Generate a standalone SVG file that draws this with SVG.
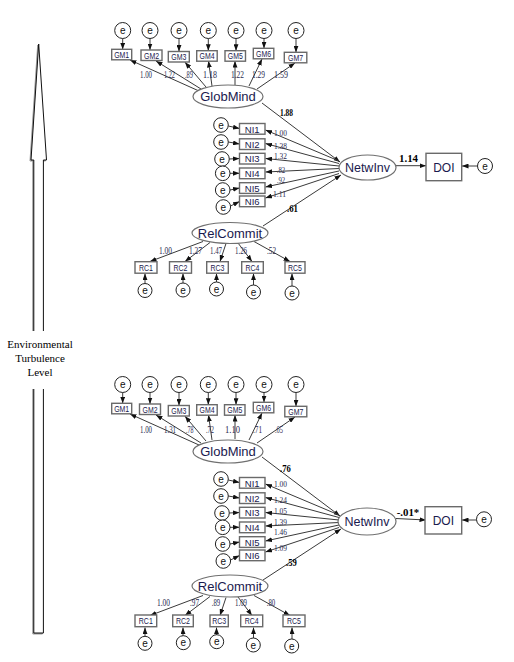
<svg xmlns="http://www.w3.org/2000/svg" width="514" height="662" viewBox="0 0 514 662">
<defs>
<marker id="ah" markerUnits="userSpaceOnUse" viewBox="0 0 8 6" markerWidth="6.5" markerHeight="5" refX="8" refY="3" orient="auto">
<path d="M0,0 L8,3 L0,6 z" fill="#111"/>
</marker>
<style>
.box{fill:#fff;stroke:#6a6a6a;stroke-width:1.4}
.ell{fill:#fff;stroke:#707070;stroke-width:1.2}
.err{fill:#fff;stroke:#222;stroke-width:1}
.nl{font-family:"Liberation Sans",Arial,sans-serif;fill:#1a1a4e;text-anchor:middle}
.bx{font-size:9.5px}
.et{font-family:"Liberation Sans",Arial,sans-serif;font-size:10px;fill:#111;text-anchor:middle}
.ld{font-family:"Liberation Serif","Times New Roman",serif;font-size:10px;fill:#2a2a50}
.ni{font-size:8.5px}
.st{font-family:"Liberation Serif","Times New Roman",serif;font-size:10px;font-weight:bold;fill:#000}
.cn{stroke:#3a3a3a;stroke-width:1;fill:none;marker-end:url(#ah)}
.lt{font-family:"Liberation Serif","Times New Roman",serif;font-size:11px;fill:#000;text-anchor:middle}
</style>
</defs>
<rect width="514" height="662" fill="#fff"/>

<g id="turbulence-arrow">
<polygon points="37.7,45 45.5,161 42.4,161 42.4,634 32.8,634 32.8,161 30,161" fill="#999" stroke="#999" stroke-width="1"/>
<polygon points="38.7,44 46.5,160 43.4,160 43.4,633 33.8,633 33.8,160 31,160" fill="#fff" stroke="#111" stroke-width="1"/>
<rect x="26" y="331" width="26" height="58" fill="#fff"/>
<text class="lt" x="40" y="348">Environmental</text>
<text class="lt" x="40" y="362">Turbulence</text>
<text class="lt" x="40" y="376">Level</text>
</g>

<!-- ================= TOP PANEL ================= -->
<g id="top-connectors">
<line class="cn" x1="122.7" y1="38.5" x2="122.7" y2="49.3"/>
<line class="cn" x1="150" y1="38.5" x2="150" y2="50"/>
<line class="cn" x1="179" y1="38.5" x2="179" y2="51.5"/>
<line class="cn" x1="208.3" y1="38.5" x2="208.3" y2="50.7"/>
<line class="cn" x1="236" y1="38.5" x2="236" y2="50.7"/>
<line class="cn" x1="264" y1="38.5" x2="264" y2="48.3"/>
<line class="cn" x1="296" y1="38.5" x2="296" y2="52.3"/>
<line class="cn" x1="199" y1="91" x2="130" y2="60"/>
<line class="cn" x1="201" y1="89" x2="156" y2="61"/>
<line class="cn" x1="206" y1="87" x2="185" y2="62.2"/>
<line class="cn" x1="212" y1="86" x2="208.5" y2="61"/>
<line class="cn" x1="235" y1="85" x2="235" y2="61"/>
<line class="cn" x1="249" y1="86" x2="262" y2="59"/>
<line class="cn" x1="257" y1="89" x2="295" y2="63"/>
<line class="cn" x1="262" y1="103" x2="340" y2="162"/>
<line class="cn" x1="263" y1="226" x2="341" y2="175"/>
<line class="cn" x1="228.3" y1="126" x2="239.5" y2="128.5"/>
<line class="cn" x1="228.3" y1="142" x2="239.5" y2="144"/>
<line class="cn" x1="229.3" y1="159" x2="239.5" y2="158.5"/>
<line class="cn" x1="230" y1="173.3" x2="239.5" y2="173.3"/>
<line class="cn" x1="230" y1="190" x2="239.5" y2="188"/>
<line class="cn" x1="230.6" y1="206" x2="239.5" y2="201.5"/>
<line class="cn" x1="339" y1="161" x2="265.5" y2="130"/>
<line class="cn" x1="339" y1="163.5" x2="265.5" y2="143.5"/>
<line class="cn" x1="339" y1="166" x2="265.5" y2="158.5"/>
<line class="cn" x1="339" y1="168.5" x2="265.5" y2="172"/>
<line class="cn" x1="339" y1="171" x2="265.5" y2="187"/>
<line class="cn" x1="339" y1="173.5" x2="265.5" y2="198"/>
<line class="cn" x1="396" y1="165.7" x2="426" y2="165.7"/>
<line class="cn" x1="477.5" y1="166" x2="462" y2="166"/>
<line class="cn" x1="203" y1="241.5" x2="150" y2="261.5"/>
<line class="cn" x1="210" y1="242.5" x2="185" y2="261.5"/>
<line class="cn" x1="226" y1="243.5" x2="220" y2="261.5"/>
<line class="cn" x1="238" y1="243" x2="252" y2="261.5"/>
<line class="cn" x1="254" y1="241.5" x2="290" y2="261.5"/>
<line class="cn" x1="145" y1="283.5" x2="145" y2="273.5"/>
<line class="cn" x1="183" y1="283" x2="183" y2="273.5"/>
<line class="cn" x1="216.5" y1="282" x2="216.5" y2="273.5"/>
<line class="cn" x1="253.5" y1="285" x2="253.5" y2="273.5"/>
<line class="cn" x1="292" y1="286" x2="292" y2="273.5"/>
</g>
<g id="top-labels">
<text class="ld" x="140" y="78.3" textLength="12" lengthAdjust="spacingAndGlyphs">1.00</text>
<text class="ld" x="164" y="78.3" textLength="11" lengthAdjust="spacingAndGlyphs">1.22</text>
<text class="ld" x="185" y="78.3" textLength="8" lengthAdjust="spacingAndGlyphs">.89</text>
<text class="ld" x="203" y="78.3" textLength="14" lengthAdjust="spacingAndGlyphs">1.18</text>
<text class="ld" x="231" y="78.3" textLength="13" lengthAdjust="spacingAndGlyphs">1.22</text>
<text class="ld" x="252" y="78.3" textLength="13" lengthAdjust="spacingAndGlyphs">1.29</text>
<text class="ld" x="274" y="78.3" textLength="14" lengthAdjust="spacingAndGlyphs">1.59</text>
<text class="st" x="280" y="116" textLength="13" lengthAdjust="spacingAndGlyphs">1.88</text>
<text class="ld ni" x="274" y="136" textLength="13" lengthAdjust="spacingAndGlyphs">1.00</text>
<text class="ld ni" x="274" y="148.6" textLength="13" lengthAdjust="spacingAndGlyphs">1.38</text>
<text class="ld ni" x="274" y="158.6" textLength="13" lengthAdjust="spacingAndGlyphs">1.32</text>
<text class="ld ni" x="276.7" y="173" textLength="8.5" lengthAdjust="spacingAndGlyphs">.82</text>
<text class="ld ni" x="276.7" y="183" textLength="8.5" lengthAdjust="spacingAndGlyphs">.92</text>
<text class="ld ni" x="273" y="197.3" textLength="13" lengthAdjust="spacingAndGlyphs">1.11</text>
<text class="st" x="287" y="211.7" textLength="11" lengthAdjust="spacingAndGlyphs">.61</text>
<text class="st" x="399" y="161.5" font-size="11" textLength="19" lengthAdjust="spacingAndGlyphs">1.14</text>
<text class="ld" x="159" y="254" textLength="13" lengthAdjust="spacingAndGlyphs">1.00</text>
<text class="ld" x="189" y="254" textLength="13" lengthAdjust="spacingAndGlyphs">1.27</text>
<text class="ld" x="210" y="254" textLength="12" lengthAdjust="spacingAndGlyphs">1.47</text>
<text class="ld" x="235" y="254" textLength="12" lengthAdjust="spacingAndGlyphs">1.26</text>
<text class="ld" x="267" y="254" textLength="9" lengthAdjust="spacingAndGlyphs">.52</text>
</g>
<g id="top-e-gm1"><circle class="err" cx="122.7" cy="30.5" r="8"/><text class="et" x="122.7" y="34">e</text></g>
<g id="top-e-gm2"><circle class="err" cx="150" cy="30.5" r="8"/><text class="et" x="150" y="34">e</text></g>
<g id="top-e-gm3"><circle class="err" cx="179" cy="30.5" r="8"/><text class="et" x="179" y="34">e</text></g>
<g id="top-e-gm4"><circle class="err" cx="208.3" cy="30.5" r="8"/><text class="et" x="208.3" y="34">e</text></g>
<g id="top-e-gm5"><circle class="err" cx="236" cy="30.5" r="8"/><text class="et" x="236" y="34">e</text></g>
<g id="top-e-gm6"><circle class="err" cx="264" cy="30.5" r="8"/><text class="et" x="264" y="34">e</text></g>
<g id="top-e-gm7"><circle class="err" cx="296" cy="30.5" r="8"/><text class="et" x="296" y="34">e</text></g>
<g id="top-GM1"><rect class="box" x="111.7" y="49.3" width="20" height="10.5"/><text class="nl bx" x="121.7" y="58" textLength="15" lengthAdjust="spacingAndGlyphs">GM1</text></g>
<g id="top-GM2"><rect class="box" x="141" y="50" width="21" height="10.5"/><text class="nl bx" x="151.5" y="58.7" textLength="15" lengthAdjust="spacingAndGlyphs">GM2</text></g>
<g id="top-GM3"><rect class="box" x="168.3" y="51.5" width="21" height="10.5"/><text class="nl bx" x="178.8" y="60.2" textLength="15" lengthAdjust="spacingAndGlyphs">GM3</text></g>
<g id="top-GM4"><rect class="box" x="196.7" y="50.7" width="20.5" height="10.5"/><text class="nl bx" x="207" y="59.4" textLength="15" lengthAdjust="spacingAndGlyphs">GM4</text></g>
<g id="top-GM5"><rect class="box" x="225" y="50.7" width="20.5" height="10.5"/><text class="nl bx" x="235.3" y="59.4" textLength="15" lengthAdjust="spacingAndGlyphs">GM5</text></g>
<g id="top-GM6"><rect class="box" x="253.3" y="48.3" width="20.5" height="10.5"/><text class="nl bx" x="263.5" y="57" textLength="15" lengthAdjust="spacingAndGlyphs">GM6</text></g>
<g id="top-GM7"><rect class="box" x="284.3" y="52.3" width="22.5" height="10.5"/><text class="nl bx" x="295.5" y="61" textLength="15" lengthAdjust="spacingAndGlyphs">GM7</text></g>
<g id="top-GlobMind"><ellipse class="ell" cx="228" cy="96.5" rx="35" ry="11.5"/><text class="nl" x="228" y="101.2" font-size="13">GlobMind</text></g>
<g id="top-e-ni1"><circle class="err" cx="221" cy="125" r="7.3"/><text class="et" x="221" y="128.5">e</text></g>
<g id="top-e-ni2"><circle class="err" cx="221" cy="142" r="7.3"/><text class="et" x="221" y="145.5">e</text></g>
<g id="top-e-ni3"><circle class="err" cx="222" cy="159" r="7.3"/><text class="et" x="222" y="162.5">e</text></g>
<g id="top-e-ni4"><circle class="err" cx="222.7" cy="173.3" r="7.3"/><text class="et" x="222.7" y="176.8">e</text></g>
<g id="top-e-ni5"><circle class="err" cx="222.7" cy="190" r="7.3"/><text class="et" x="222.7" y="193.5">e</text></g>
<g id="top-e-ni6"><circle class="err" cx="223.3" cy="207" r="7.3"/><text class="et" x="223.3" y="210.5">e</text></g>
<g id="top-NI1"><rect class="box" x="239.5" y="123.5" width="25.5" height="10.7"/><text class="nl bx" x="252.2" y="132.5">NI1</text></g>
<g id="top-NI2"><rect class="box" x="239.5" y="138.8" width="25.5" height="10.7"/><text class="nl bx" x="252.2" y="147.8">NI2</text></g>
<g id="top-NI3"><rect class="box" x="239.5" y="153.3" width="25.5" height="10.7"/><text class="nl bx" x="252.2" y="162.3">NI3</text></g>
<g id="top-NI4"><rect class="box" x="239.5" y="168" width="25.5" height="10.7"/><text class="nl bx" x="252.2" y="177">NI4</text></g>
<g id="top-NI5"><rect class="box" x="239.5" y="182.7" width="25.5" height="10.7"/><text class="nl bx" x="252.2" y="191.7">NI5</text></g>
<g id="top-NI6"><rect class="box" x="239.5" y="196" width="25.5" height="10.7"/><text class="nl bx" x="252.2" y="205">NI6</text></g>
<g id="top-NetwInv"><ellipse class="ell" cx="367.5" cy="167.5" rx="28.5" ry="12.5"/><text class="nl" x="367.5" y="172" font-size="12.5">NetwInv</text></g>
<g id="top-DOI"><rect class="box" x="426" y="153.3" width="35.7" height="27.4"/><text class="nl" x="443.8" y="171.5" font-size="12">DOI</text></g>
<g id="top-e-doi"><circle class="err" cx="485" cy="166" r="7.5"/><text class="et" x="485" y="169.5">e</text></g>
<g id="top-RelCommit"><ellipse class="ell" cx="230" cy="233" rx="38" ry="10.5"/><text class="nl" x="230" y="237.6" font-size="13">RelCommit</text></g>
<g id="top-RC1"><rect class="box" x="135" y="261.7" width="22" height="11.5"/><text class="nl bx" x="146" y="270.8" textLength="14" lengthAdjust="spacingAndGlyphs">RC1</text></g>
<g id="top-RC2"><rect class="box" x="169.5" y="261.7" width="22" height="11.5"/><text class="nl bx" x="180.5" y="270.8" textLength="14" lengthAdjust="spacingAndGlyphs">RC2</text></g>
<g id="top-RC3"><rect class="box" x="206.7" y="261.7" width="21.6" height="11.5"/><text class="nl bx" x="217.5" y="270.8" textLength="14" lengthAdjust="spacingAndGlyphs">RC3</text></g>
<g id="top-RC4"><rect class="box" x="241.7" y="261.7" width="21.6" height="11.5"/><text class="nl bx" x="252.5" y="270.8" textLength="14" lengthAdjust="spacingAndGlyphs">RC4</text></g>
<g id="top-RC5"><rect class="box" x="285" y="261.7" width="20" height="11.5"/><text class="nl bx" x="295" y="270.8" textLength="14" lengthAdjust="spacingAndGlyphs">RC5</text></g>
<g id="top-e-rc1"><circle class="err" cx="145" cy="290.5" r="7"/><text class="et" x="145" y="294">e</text></g>
<g id="top-e-rc2"><circle class="err" cx="183" cy="290" r="7"/><text class="et" x="183" y="293.5">e</text></g>
<g id="top-e-rc3"><circle class="err" cx="216.5" cy="289" r="7"/><text class="et" x="216.5" y="292.5">e</text></g>
<g id="top-e-rc4"><circle class="err" cx="253.5" cy="292" r="7"/><text class="et" x="253.5" y="295.5">e</text></g>
<g id="top-e-rc5"><circle class="err" cx="292" cy="293" r="7"/><text class="et" x="292" y="296.5">e</text></g>

<!-- ================= BOTTOM PANEL ================= -->
<g transform="translate(0,354)">
<g id="bottom-connectors">
<line class="cn" x1="122.7" y1="38.5" x2="122.7" y2="49.3"/>
<line class="cn" x1="150" y1="38.5" x2="150" y2="50"/>
<line class="cn" x1="179" y1="38.5" x2="179" y2="51.5"/>
<line class="cn" x1="208.3" y1="38.5" x2="208.3" y2="50.7"/>
<line class="cn" x1="236" y1="38.5" x2="236" y2="50.7"/>
<line class="cn" x1="264" y1="38.5" x2="264" y2="48.3"/>
<line class="cn" x1="296" y1="38.5" x2="296" y2="52.3"/>
<line class="cn" x1="199" y1="91" x2="130" y2="60"/>
<line class="cn" x1="201" y1="89" x2="156" y2="61"/>
<line class="cn" x1="206" y1="87" x2="185" y2="62.2"/>
<line class="cn" x1="212" y1="86" x2="208.5" y2="61"/>
<line class="cn" x1="235" y1="85" x2="235" y2="61"/>
<line class="cn" x1="249" y1="86" x2="262" y2="59"/>
<line class="cn" x1="257" y1="89" x2="295" y2="63"/>
<line class="cn" x1="262" y1="103" x2="340" y2="162"/>
<line class="cn" x1="263" y1="226" x2="341" y2="175"/>
<line class="cn" x1="228.3" y1="126" x2="239.5" y2="128.5"/>
<line class="cn" x1="228.3" y1="142" x2="239.5" y2="144"/>
<line class="cn" x1="229.3" y1="159" x2="239.5" y2="158.5"/>
<line class="cn" x1="230" y1="173.3" x2="239.5" y2="173.3"/>
<line class="cn" x1="230" y1="190" x2="239.5" y2="188"/>
<line class="cn" x1="230.6" y1="206" x2="239.5" y2="201.5"/>
<line class="cn" x1="339" y1="161" x2="265.5" y2="130"/>
<line class="cn" x1="339" y1="163.5" x2="265.5" y2="143.5"/>
<line class="cn" x1="339" y1="166" x2="265.5" y2="158.5"/>
<line class="cn" x1="339" y1="168.5" x2="265.5" y2="172"/>
<line class="cn" x1="339" y1="171" x2="265.5" y2="187"/>
<line class="cn" x1="339" y1="173.5" x2="265.5" y2="198"/>
<line class="cn" x1="396" y1="164.5" x2="426" y2="166"/>
<line class="cn" x1="477.5" y1="166" x2="462" y2="166"/>
<line class="cn" x1="203" y1="241.5" x2="150" y2="261.5"/>
<line class="cn" x1="210" y1="242.5" x2="185" y2="261.5"/>
<line class="cn" x1="226" y1="243.5" x2="220" y2="261.5"/>
<line class="cn" x1="238" y1="243" x2="252" y2="261.5"/>
<line class="cn" x1="254" y1="241.5" x2="290" y2="261.5"/>
<line class="cn" x1="145" y1="282.5" x2="145" y2="273.5"/>
<line class="cn" x1="183" y1="282" x2="183" y2="273.5"/>
<line class="cn" x1="216.5" y1="281" x2="216.5" y2="273.5"/>
<line class="cn" x1="253.5" y1="284" x2="253.5" y2="273.5"/>
<line class="cn" x1="292" y1="285" x2="292" y2="273.5"/>
</g>
<g id="bottom-labels">
<text class="ld" x="140" y="79" textLength="12" lengthAdjust="spacingAndGlyphs">1.00</text>
<text class="ld" x="164" y="79" textLength="12" lengthAdjust="spacingAndGlyphs">1.31</text>
<text class="ld" x="186" y="79" textLength="7.5" lengthAdjust="spacingAndGlyphs">.78</text>
<text class="ld" x="206" y="79" textLength="8" lengthAdjust="spacingAndGlyphs">.72</text>
<text class="ld" x="225" y="79" textLength="15" lengthAdjust="spacingAndGlyphs">1.10</text>
<text class="ld" x="253" y="79" textLength="9" lengthAdjust="spacingAndGlyphs">.71</text>
<text class="ld" x="275" y="79" textLength="8" lengthAdjust="spacingAndGlyphs">.65</text>
<text class="st" x="280" y="117.7" textLength="10.7" lengthAdjust="spacingAndGlyphs">.76</text>
<text class="ld ni" x="274" y="133.3" textLength="13" lengthAdjust="spacingAndGlyphs">1.00</text>
<text class="ld ni" x="274" y="149" textLength="13" lengthAdjust="spacingAndGlyphs">1.24</text>
<text class="ld ni" x="274" y="159.5" textLength="13" lengthAdjust="spacingAndGlyphs">1.05</text>
<text class="ld ni" x="274" y="171" textLength="13" lengthAdjust="spacingAndGlyphs">1.39</text>
<text class="ld ni" x="274" y="181.3" textLength="13" lengthAdjust="spacingAndGlyphs">1.46</text>
<text class="ld ni" x="274" y="196.7" textLength="13" lengthAdjust="spacingAndGlyphs">1.09</text>
<text class="st" x="286" y="212" textLength="10.7" lengthAdjust="spacingAndGlyphs">.59</text>
<text class="st" x="396.7" y="162" font-size="11" textLength="22.6" lengthAdjust="spacingAndGlyphs">-.01*</text>
<text class="ld" x="157" y="252" textLength="13" lengthAdjust="spacingAndGlyphs">1.00</text>
<text class="ld" x="190" y="252" textLength="9" lengthAdjust="spacingAndGlyphs">.97</text>
<text class="ld" x="211.7" y="252" textLength="8.5" lengthAdjust="spacingAndGlyphs">.89</text>
<text class="ld" x="235" y="252" textLength="12" lengthAdjust="spacingAndGlyphs">1.09</text>
<text class="ld" x="266.7" y="252" textLength="8.5" lengthAdjust="spacingAndGlyphs">.80</text>
</g>
<g id="bottom-e-gm1"><circle class="err" cx="122.7" cy="30.5" r="8"/><text class="et" x="122.7" y="34">e</text></g>
<g id="bottom-e-gm2"><circle class="err" cx="150" cy="30.5" r="8"/><text class="et" x="150" y="34">e</text></g>
<g id="bottom-e-gm3"><circle class="err" cx="179" cy="30.5" r="8"/><text class="et" x="179" y="34">e</text></g>
<g id="bottom-e-gm4"><circle class="err" cx="208.3" cy="30.5" r="8"/><text class="et" x="208.3" y="34">e</text></g>
<g id="bottom-e-gm5"><circle class="err" cx="236" cy="30.5" r="8"/><text class="et" x="236" y="34">e</text></g>
<g id="bottom-e-gm6"><circle class="err" cx="264" cy="30.5" r="8"/><text class="et" x="264" y="34">e</text></g>
<g id="bottom-e-gm7"><circle class="err" cx="296" cy="30.5" r="8"/><text class="et" x="296" y="34">e</text></g>
<g id="bottom-GM1"><rect class="box" x="111.7" y="49.3" width="20" height="10.5"/><text class="nl bx" x="121.7" y="58" textLength="15" lengthAdjust="spacingAndGlyphs">GM1</text></g>
<g id="bottom-GM2"><rect class="box" x="139.5" y="50" width="21" height="10.5"/><text class="nl bx" x="150" y="58.7" textLength="15" lengthAdjust="spacingAndGlyphs">GM2</text></g>
<g id="bottom-GM3"><rect class="box" x="168.3" y="51.5" width="21" height="10.5"/><text class="nl bx" x="178.8" y="60.2" textLength="15" lengthAdjust="spacingAndGlyphs">GM3</text></g>
<g id="bottom-GM4"><rect class="box" x="196.7" y="50.7" width="20.5" height="10.5"/><text class="nl bx" x="207" y="59.4" textLength="15" lengthAdjust="spacingAndGlyphs">GM4</text></g>
<g id="bottom-GM5"><rect class="box" x="224.5" y="50.7" width="20.5" height="10.5"/><text class="nl bx" x="234.8" y="59.4" textLength="15" lengthAdjust="spacingAndGlyphs">GM5</text></g>
<g id="bottom-GM6"><rect class="box" x="253.3" y="48.3" width="20.5" height="10.5"/><text class="nl bx" x="263.5" y="57" textLength="15" lengthAdjust="spacingAndGlyphs">GM6</text></g>
<g id="bottom-GM7"><rect class="box" x="284.8" y="52.3" width="22" height="10.5"/><text class="nl bx" x="295.8" y="61" textLength="15" lengthAdjust="spacingAndGlyphs">GM7</text></g>
<g id="bottom-GlobMind"><ellipse class="ell" cx="228" cy="97.5" rx="35" ry="11.5"/><text class="nl" x="228" y="102.2" font-size="13">GlobMind</text></g>
<g id="bottom-e-ni1"><circle class="err" cx="221" cy="125" r="7.3"/><text class="et" x="221" y="128.5">e</text></g>
<g id="bottom-e-ni2"><circle class="err" cx="221" cy="142" r="7.3"/><text class="et" x="221" y="145.5">e</text></g>
<g id="bottom-e-ni3"><circle class="err" cx="222" cy="159" r="7.3"/><text class="et" x="222" y="162.5">e</text></g>
<g id="bottom-e-ni4"><circle class="err" cx="222.7" cy="173.3" r="7.3"/><text class="et" x="222.7" y="176.8">e</text></g>
<g id="bottom-e-ni5"><circle class="err" cx="222.7" cy="190" r="7.3"/><text class="et" x="222.7" y="193.5">e</text></g>
<g id="bottom-e-ni6"><circle class="err" cx="223.3" cy="207" r="7.3"/><text class="et" x="223.3" y="210.5">e</text></g>
<g id="bottom-NI1"><rect class="box" x="239.5" y="123.5" width="25.5" height="10.7"/><text class="nl bx" x="252.2" y="132.5">NI1</text></g>
<g id="bottom-NI2"><rect class="box" x="239.5" y="138.8" width="25.5" height="10.7"/><text class="nl bx" x="252.2" y="147.8">NI2</text></g>
<g id="bottom-NI3"><rect class="box" x="239.5" y="153.3" width="25.5" height="10.7"/><text class="nl bx" x="252.2" y="162.3">NI3</text></g>
<g id="bottom-NI4"><rect class="box" x="239.5" y="168" width="25.5" height="10.7"/><text class="nl bx" x="252.2" y="177">NI4</text></g>
<g id="bottom-NI5"><rect class="box" x="239.5" y="182.7" width="25.5" height="10.7"/><text class="nl bx" x="252.2" y="191.7">NI5</text></g>
<g id="bottom-NI6"><rect class="box" x="239.5" y="196" width="25.5" height="10.7"/><text class="nl bx" x="252.2" y="205">NI6</text></g>
<g id="bottom-NetwInv"><ellipse class="ell" cx="367" cy="167.5" rx="29" ry="13.5"/><text class="nl" x="367" y="172" font-size="12.5">NetwInv</text></g>
<g id="bottom-DOI"><rect class="box" x="425" y="152.7" width="36.7" height="27.3"/><text class="nl" x="443.3" y="170.8" font-size="12">DOI</text></g>
<g id="bottom-e-doi"><circle class="err" cx="484" cy="165.3" r="7.5"/><text class="et" x="484" y="168.8">e</text></g>
<g id="bottom-RelCommit"><ellipse class="ell" cx="230" cy="232" rx="38" ry="11"/><text class="nl" x="230" y="236.6" font-size="13">RelCommit</text></g>
<g id="bottom-RC1"><rect class="box" x="135" y="261" width="21.7" height="11.7"/><text class="nl bx" x="145.8" y="270.2" textLength="14" lengthAdjust="spacingAndGlyphs">RC1</text></g>
<g id="bottom-RC2"><rect class="box" x="172.7" y="261" width="20.6" height="11.7"/><text class="nl bx" x="183" y="270.2" textLength="14" lengthAdjust="spacingAndGlyphs">RC2</text></g>
<g id="bottom-RC3"><rect class="box" x="210" y="261" width="18.3" height="11.7"/><text class="nl bx" x="219.2" y="270.2" textLength="14" lengthAdjust="spacingAndGlyphs">RC3</text></g>
<g id="bottom-RC4"><rect class="box" x="240.7" y="261" width="22" height="11.7"/><text class="nl bx" x="251.7" y="270.2" textLength="14" lengthAdjust="spacingAndGlyphs">RC4</text></g>
<g id="bottom-RC5"><rect class="box" x="283" y="261" width="22" height="11.7"/><text class="nl bx" x="294" y="270.2" textLength="14" lengthAdjust="spacingAndGlyphs">RC5</text></g>
<g id="bottom-e-rc1"><circle class="err" cx="145" cy="289.3" r="7"/><text class="et" x="145" y="292.8">e</text></g>
<g id="bottom-e-rc2"><circle class="err" cx="183.3" cy="288.7" r="7"/><text class="et" x="183.3" y="292.2">e</text></g>
<g id="bottom-e-rc3"><circle class="err" cx="216.7" cy="287.7" r="7"/><text class="et" x="216.7" y="291.2">e</text></g>
<g id="bottom-e-rc4"><circle class="err" cx="253.3" cy="291" r="7"/><text class="et" x="253.3" y="294.5">e</text></g>
<g id="bottom-e-rc5"><circle class="err" cx="291.7" cy="292" r="7"/><text class="et" x="291.7" y="295.5">e</text></g>
</g>
</svg>
